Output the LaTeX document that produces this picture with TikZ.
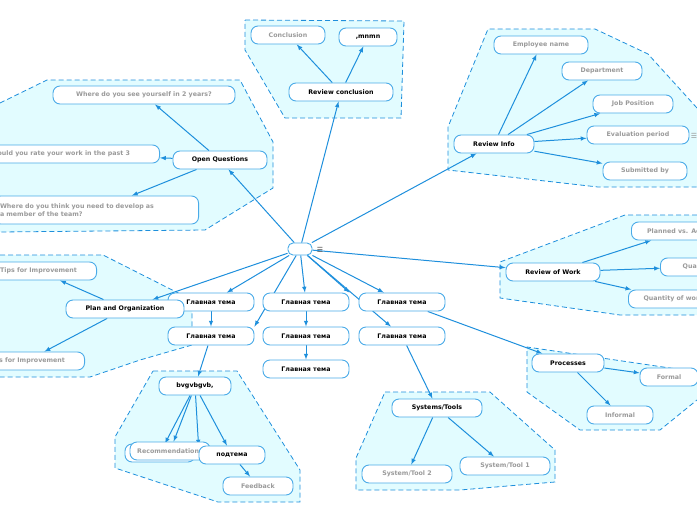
\documentclass[tikz,border=0pt]{standalone}
\usepackage{fontspec}
\setmainfont{DejaVu Sans}
\pgfdeclarelayer{bg}
\pgfdeclarelayer{conn}
\pgfsetlayers{bg,conn,main}
\begin{document}
\begin{tikzpicture}[x=1pt,y=-1pt,
  every node/.style={font=\fontsize{6.3}{7.6}\selectfont\bfseries},
  box/.style={draw=nodeb,line width=0.9pt,fill=white,rounded corners=7pt,minimum height=18pt,inner sep=1pt,align=center},
  leaf/.style={box,text=leafc},
  main/.style={box,text=black},
  grp/.style={draw=lineb,dashed,dash pattern=on 5pt off 3pt,fill=grpf,line width=0.8pt},
  con/.style={draw=lineb,line width=1pt,-latex}]
\definecolor{nodeb}{HTML}{4AABE8}
\definecolor{lineb}{HTML}{1E8FDC}
\definecolor{grpf}{HTML}{E2FCFF}
\definecolor{leafc}{HTML}{9A9A9A}
\useasboundingbox (0,0) rectangle (697,520);
\begin{pgfonlayer}{bg}
\draw[grp] (0,103)--(47,80)--(240,80)--(273,142)--(273,188)--(205,230)--(0,232);
\draw[grp] (245,20)--(404,21)--(401,118)--(285,118)--(245,50)--cycle;
\fill[grpf] (488,29)--(595,29)--(648,54)--(697,108)--(697,187)--(598,187)--(448,170)--(448,127)--cycle;
\draw[grp,fill=none] (697,108)--(648,54)--(595,29)--(488,29)--(448,127)--(448,170)--(598,187)--(697,187);
\fill[grpf] (500,262)--(625,215)--(697,215)--(697,315)--(620,315)--(500,298)--cycle;
\draw[grp,fill=none] (697,215)--(625,215)--(500,262)--(500,298)--(620,315)--(697,315);
\fill[grpf] (527,347)--(697,372)--(697,400)--(660,430)--(580,430)--(527,392)--cycle;
\draw[grp,fill=none] (697,372)--(527,347)--(527,392)--(580,430)--(660,430)--(697,400);
\draw[grp] (385,392)--(490,392)--(555,450)--(555,482)--(460,490)--(356,490)--(356,458)--cycle;
\draw[grp] (0,255)--(103,255)--(192,300)--(192,345)--(140,360)--(90,377)--(0,377);
\draw[grp] (153,371)--(237,371)--(300,470)--(300,502)--(218,502)--(115,468)--(115,437)--cycle;
\end{pgfonlayer}
% root
\node[main,minimum width=24pt,minimum height=12pt,rounded corners=5pt] (root) at (300,249) {};
\node[font=\fontsize{7}{8}\selectfont,text=black!70] (rooticon) at (320,250) {☰};
% open questions
\node[main,minimum width=94pt] (oq) at (220,160) {Open Questions};
\node[leaf,minimum width=182pt] (oq1) at (144,95) {Where do you see yourself in 2 years?};
\node[leaf,minimum width=215pt,anchor=east] (oq2) at (160,154) {How would you rate your work in the past 3};
\node[leaf,minimum width=205pt,minimum height=28pt,anchor=east,align=left,text width=192pt] (oq3) at (199,210) {Where do you think you need to develop as\\a member of the team?};
% conclusion
\node[main,minimum width=104pt] (rc) at (341,92) {Review conclusion};
\node[leaf,minimum width=74pt] (c1) at (288,35) {Conclusion};
\node[main,minimum width=58pt] (c2) at (368,37) {,mnmn};
% review info
\node[main,minimum width=80pt] (ri) at (494,144) {Review Info};
\node[leaf,minimum width=94pt] (ri1) at (541,45) {Employee name};
\node[leaf,minimum width=80pt] (ri2) at (602,71) {Department};
\node[leaf,minimum width=80pt] (ri3) at (633,104) {Job Position};
\node[leaf,minimum width=102pt] (ri4) at (638,135) {Evaluation period};
\node[font=\fontsize{7}{8}\selectfont,text=black!40] (ri4icon) at (694,136) {☰};
\node[leaf,minimum width=84pt] (ri5) at (645,171) {Submitted by};
% review of work
\node[main,minimum width=94pt] (rw) at (553,272) {Review of Work};
\node[leaf,minimum width=98pt,anchor=west] (rw1) at (631,231) {Planned vs. Actual};
\node[leaf,minimum width=70pt,anchor=west] (rw2) at (660,267) {Quality};
\node[leaf,minimum width=90pt,anchor=west] (rw3) at (628,299) {Quantity of work};
% processes
\node[main,minimum width=72pt] (pr) at (568,363) {Processes};
\node[leaf,minimum width=58pt] (pr1) at (669,377) {Formal};
\node[leaf,minimum width=66pt] (pr2) at (620,415) {Informal};
% systems
\node[main,minimum width=90pt] (st) at (437,408) {Systems/Tools};
\node[leaf,minimum width=90pt] (st2) at (407,474) {System/Tool 2};
\node[leaf,minimum width=90pt] (st1) at (505,466) {System/Tool 1};
% plan and organization
\node[leaf,minimum width=116pt,anchor=east] (po1) at (97,271) {Tips for Improvement};
\node[leaf,minimum width=116pt,anchor=east] (po2) at (85,361) {Tips for Improvement};
% main topics
\node[main,minimum width=86pt] (g1) at (211,302) {Главная тема};
\node[main,minimum width=118pt] (po) at (125,309) {Plan and Organization};
\node[main,minimum width=86pt] (g2) at (211,336) {Главная тема};
\node[main,minimum width=86pt] (g3) at (306,302) {Главная тема};
\node[main,minimum width=86pt] (g4) at (306,336) {Главная тема};
\node[main,minimum width=86pt] (g5) at (306,369) {Главная тема};
\node[main,minimum width=86pt] (g6) at (402,302) {Главная тема};
\node[main,minimum width=86pt] (g7) at (402,336) {Главная тема};
% bvg
\node[main,minimum width=72pt] (bv) at (195,386) {bvgvbgvb,};
\node[leaf,minimum width=70pt] (rec0) at (160,453) {};
\node[leaf,minimum width=80pt] (rec) at (170,451) {Recommendations};
\node[main,minimum width=66pt] (pt) at (232,455) {подтема};
\node[leaf,minimum width=70pt] (fb) at (258,486) {Feedback};
\begin{pgfonlayer}{conn}
\draw[con] (oq) -- (oq1);
\draw[con] (oq) -- (oq2);
\draw[con] (oq) -- (oq3);
\draw[con] (root) -- (oq);
\draw[con] (rc) -- (c1);
\draw[con] (rc) -- (c2);
\draw[con] (root) -- (rc);
\draw[con] (root) -- (ri);
\draw[con] (ri) -- (ri1);
\draw[con] (ri) -- (ri2);
\draw[con] (ri) -- (ri3);
\draw[con] (ri) -- (ri4);
\draw[con] (ri) -- (ri5);
\draw[con] (root) -- (rw);
\draw[con] (rw) -- (rw1);
\draw[con] (rw) -- (rw2);
\draw[con] (rw) -- (rw3);
\draw[con] (g6) -- (pr);
\draw[con] (pr) -- (pr1);
\draw[con] (pr) -- (pr2);
\draw[con] (g7) -- (st);
\draw[con] (st) -- (st2);
\draw[con] (st) -- (st1);
\draw[con] (po) -- (po1);
\draw[con] (po) -- (po2);
\draw[con] (root) -- (po);
\draw[con] (root) -- (g1);
\draw[con] (g1) -- (g2);
\draw[con] (root) -- (g2.north east);
\draw[con] (g2) -- (bv);
\draw[con] (root) -- (g3);
\draw[con] (g3) -- (g4);
\draw[con] (g4) -- (g5);
\draw[con] (root) -- (g6);
\draw[con] (root) -- (g7);
\draw[con] (root) -- (g3.north east);
\draw[con] (bv) -- (rec0);
\draw[con] (bv) -- (rec);
\draw[con] (bv) -- (pt);
\draw[con] (bv) -- (pt.north west);
\draw[con] (pt) -- (fb);
\end{pgfonlayer}
\end{tikzpicture}
\end{document}
